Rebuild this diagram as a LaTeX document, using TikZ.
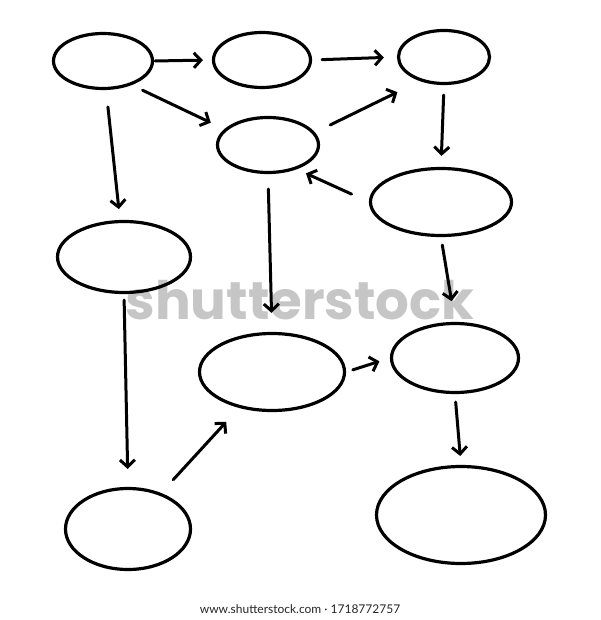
\documentclass[tikz,border=0pt]{standalone}
\usepackage{fontspec}
\usetikzlibrary{shapes.geometric, arrows.meta}
\newfontfamily\wmfont{Poppins}
\newfontfamily\creditfont{Lato}
\tikzset{bubble/.style={ellipse,draw,line width=3.2pt,inner sep=0pt},
         arrow/.style={-{Straight Barb[length=7pt,width=15pt]},line width=3pt,line cap=round,line join=round},
         wmark/.style={text=gray!45,font=\wmfont\bfseries\fontsize{53}{53}\selectfont},
         credit/.style={text=black!85,font=\creditfont\fontsize{12}{14}\selectfont}}

\begin{document}
\begin{tikzpicture}[x=1pt,y=-1pt]
    \useasboundingbox (0,0) rectangle (600,620);
    \fill[white] (0,0) rectangle (600,620);
    % Watermark and credit line
    \node (wm) at (300,300) [wmark]{shutterstock};
    \node (credit) at (300,609) [credit]{www.shutterstock.com · 1718772757};
    % Bubbles
    \node (e1) at (103,61) [bubble,minimum width=99pt,minimum height=55pt]{};
    \node (e2) at (262,60) [bubble,minimum width=97pt,minimum height=55pt]{};
    \node (e3) at (444,57) [bubble,minimum width=91pt,minimum height=53pt]{};
    \node (e4) at (268,145) [bubble,minimum width=101pt,minimum height=55pt]{};
    \node (e5) at (441,202) [bubble,minimum width=141pt,minimum height=67pt]{};
    \node (e6) at (124,257) [bubble,minimum width=133pt,minimum height=71pt]{};
    \node (e7) at (272,372) [bubble,minimum width=145pt,minimum height=77pt]{};
    \node (e8) at (455,358) [bubble,minimum width=127pt,minimum height=69pt]{};
    \node (e9) at (128,529) [bubble,minimum width=125pt,minimum height=81pt]{};
    \node (e10) at (461,515) [bubble,minimum width=169pt,minimum height=97pt]{};
    % Arrows
    \draw[arrow,shorten <=1pt,shorten >=9pt] (e1.east) -- (e2.west);
    \draw[arrow,shorten <=12pt,shorten >=15pt] (e1.-40) -- (e4.160);
    \draw[arrow,shorten <=17pt,shorten >=11pt] (e1) -- (e6);
    \draw[arrow,shorten <=10pt,shorten >=13pt] (e2.east) -- (e3.west);
    \draw[arrow,shorten <=17pt,shorten >=25pt] (e4.15) -- (e3.225);
    \draw[arrow,shorten <=19pt,shorten >=10pt] (e5.west) -- (e4.-40);
    \draw[arrow,shorten <=10pt,shorten >=11pt] (e3.south) -- (e5.north);
    \draw[arrow,shorten <=15pt,shorten >=19pt] (e4.south) -- (e7.north);
    \draw[arrow,shorten <=8pt,shorten >=21pt] (e5.south) -- (e8.north);
    \draw[arrow,shorten <=6pt,shorten >=18pt] (e6.south) -- (e9.north);
    \draw[arrow,shorten <=18pt,shorten >=19pt] (e9) -- (e7);
    \draw[arrow,shorten <=7pt,shorten >=11pt] (e7.east) -- (e8.west);
    \draw[arrow,shorten <=8pt,shorten >=9pt] (e8.south) -- (e10.north);
\end{tikzpicture}
\end{document}
